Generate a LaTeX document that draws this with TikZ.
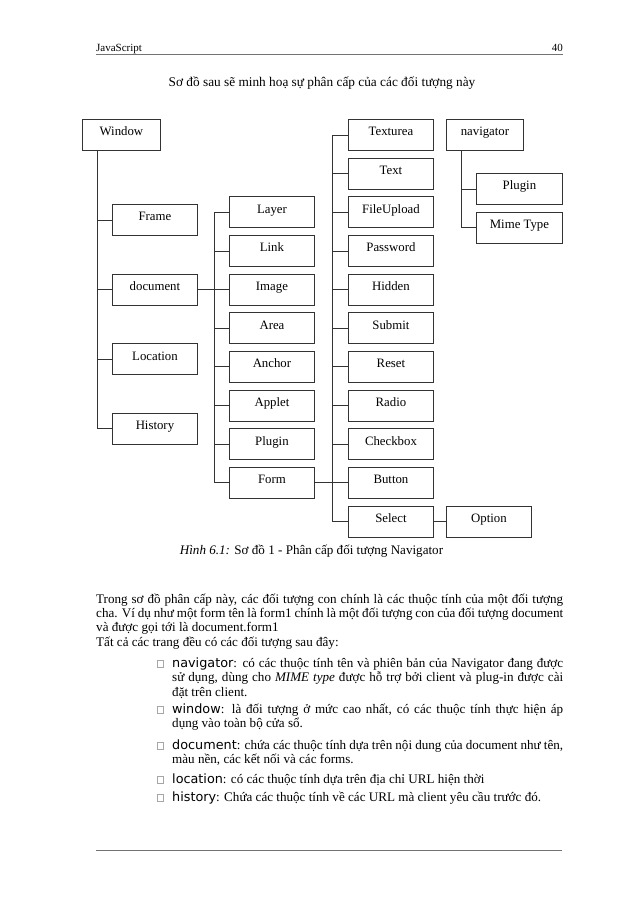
\documentclass[tikz,border=0pt]{standalone}
\usepackage{fontspec}
\setmainfont{Liberation Serif}
\newfontfamily\kwfont{DejaVu Sans}
\usetikzlibrary{calc}
\begin{document}
\begin{tikzpicture}[x=1pt,y=-1pt,
  obj/.style={draw=black!80, line width=0.9pt, inner sep=0pt, minimum width=85pt,
    text height=16.5pt, text depth=14.5pt, anchor=north west,
    font=\fontsize{12.8}{14}\selectfont},
  lnk/.style={draw=black!80, line width=0.9pt},
  txt/.style={inner sep=0pt, anchor=base west, font=\fontsize{13.1}{15}\selectfont},
  bul/.style={draw=black!35, line width=0.5pt},
  rul/.style={draw=black!55, line width=0.9pt},
]
\useasboundingbox[fill=white] (0,0) rectangle (638,903);

% header
\node[txt, font=\fontsize{11}{12}\selectfont] (hl) at (96,51) {JavaScript};
\node[txt, anchor=base east, font=\fontsize{11}{12}\selectfont] (hr) at (563,51) {40};
\coordinate (r1a) at (96,54.5); \coordinate (r1b) at (563,54.5);
\draw[rul] (r1a) -- (r1b);

\node[txt, anchor=base, font=\fontsize{13.3}{15}\selectfont] (title) at (322,86) {Sơ đồ sau sẽ minh hoạ sự phân cấp của các đối tượng này};

% column 1
\node[obj, minimum width=78pt] (win) at (82,118.5) {Window};
\node[obj] (frame) at (112,204) {Frame};
\node[obj] (doc) at (112,273.6) {document};
\node[obj] (loc) at (112,343.2) {Location};
\node[obj] (hist) at (112,412.8) {History};

% column 2
\node[obj] (layer) at (229,196.3) {Layer};
\node[obj] (link) at (229,235) {Link};
\node[obj] (image) at (229,273.6) {Image};
\node[obj] (area) at (229,312.3) {Area};
\node[obj] (anchor) at (229,350.9) {Anchor};
\node[obj] (applet) at (229,389.6) {Applet};
\node[obj] (plugin) at (229,428.2) {Plugin};
\node[obj] (form) at (229,466.9) {Form};

% column 3
\node[obj] (textarea) at (348,119) {Texturea};
\node[obj] (text) at (348,157.65) {Text};
\node[obj] (fileup) at (348,196.3) {FileUpload};
\node[obj] (pass) at (348,235) {Password};
\node[obj] (hidden) at (348,273.6) {Hidden};
\node[obj] (submit) at (348,312.3) {Submit};
\node[obj] (reset) at (348,350.9) {Reset};
\node[obj] (radio) at (348,389.6) {Radio};
\node[obj] (check) at (348,428.2) {Checkbox};
\node[obj] (button) at (348,466.9) {Button};
\node[obj] (select) at (348,505.5) {Select};

% navigator
\node[obj, minimum width=77pt] (nav) at (446,119) {navigator};
\node[obj, minimum width=86pt] (nplug) at (476,173) {Plugin};
\node[obj, minimum width=86pt] (mime) at (476,211.6) {Mime Type};
\node[obj] (option) at (446,505.5) {Option};

% trunks
\coordinate (t1) at (97,0);
\coordinate (t2) at (214,0);
\coordinate (t3) at (332,0);
\coordinate (t4) at (461,0);

\draw[lnk] (t1 |- win.south) -- (t1 |- hist.west) -- (hist.west);
\foreach \n in {frame,doc,loc} \draw[lnk] (t1 |- \n.west) -- (\n.west);

\draw[lnk] (t2 |- layer.west) -- (t2 |- form.west) -- (form.west);
\foreach \n in {layer,link,area,anchor,applet,plugin} \draw[lnk] (t2 |- \n.west) -- (\n.west);
\draw[lnk] (doc.east) -- (image.west);

\draw[lnk] (t3 |- textarea.west) -- (t3 |- select.west) -- (select.west);
\foreach \n in {textarea,text,fileup,pass,hidden,submit,reset,radio,check} \draw[lnk] (t3 |- \n.west) -- (\n.west);
\draw[lnk] (form.east) -- (button.west);

\draw[lnk] (t4 |- nav.south) -- (t4 |- mime.west) -- (mime.west);
\draw[lnk] (t4 |- nplug.west) -- (nplug.west);

\draw[lnk] (select.east) -- (option.west);

% caption
\node[txt, anchor=base] (cap) at (311.5,554) {\textit{Hình 6.1:} Sơ đồ 1 - Phân cấp đối tượng Navigator};

% paragraph
\node[txt] (p1) at (96,603) {\hbox to 467pt{Trong sơ đồ phân cấp này, các đối tượng con chính là các thuộc tính của một đối tượng}};
\node[txt] (p2) at (96,617.5) {\hbox to 467pt{cha. Ví dụ như một form tên là form1 chính là một đối tượng con của đối tượng document}};
\node[txt] (p3) at (96,631.5) {và được gọi tới là document.form1};
\node[txt] (p4) at (96,646.5) {Tất cả các trang đều có các đối tượng sau đây:};

% bullets
\newcommand\kwd[1]{{\kwfont\fontsize{12.8}{15}\selectfont #1}}
\node[txt] (b1a) at (172,667) {\hbox to 391pt{\kwd{navigator}: có các thuộc tính tên và phiên bản của Navigator đang được}};
\node[txt] (b1b) at (172,681.5) {\hbox to 391pt{sử dụng, dùng cho \textit{MIME type} được hỗ trợ bởi client và plug-in được cài}};
\node[txt] (b1c) at (172,696) {đặt trên client.};
\node[txt] (b2a) at (172,713) {\hbox to 391pt{\kwd{window}: là đối tượng ở mức cao nhất, có các thuộc tính thực hiện áp}};
\node[txt] (b2b) at (172,727.5) {dụng vào toàn bộ cửa sổ.};
\node[txt] (b3a) at (172,749) {\hbox to 391pt{\kwd{document}: chứa các thuộc tính dựa trên nội dung của document như tên,}};
\node[txt] (b3b) at (172,763.5) {màu nền, các kết nối và các forms.};
\node[txt] (b4) at (172,783) {\kwd{location}: có các thuộc tính dựa trên địa chỉ URL hiện thời};
\node[txt] (b5) at (172,801.5) {\kwd{history}: Chứa các thuộc tính về các URL mà client yêu cầu trước đó.};

\foreach \b in {667,713,749,783,801.5}
  \draw[bul] (157,\b-7) rectangle (163.5,\b);

% footer rule
\coordinate (r2a) at (96,850); \coordinate (r2b) at (562,850);
\draw[rul] (r2a) -- (r2b);
\end{tikzpicture}
\end{document}
